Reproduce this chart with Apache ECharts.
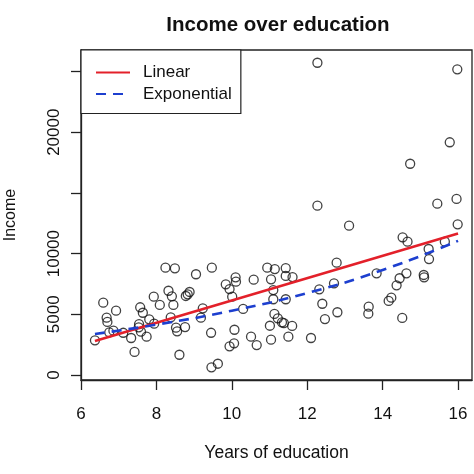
<!DOCTYPE html>
<html lang="en">
<head>
    <meta charset="UTF-8">
    <title>Income over education</title>
    <script src="https://cdn.jsdelivr.net/npm/echarts@6/dist/echarts.min.js"></script>
    <style>
        html, body { margin: 0; padding: 0; background: #fff; }
        #chart { width: 474px; height: 474px; }
    </style>
</head>
<body>
    <div id="chart"></div>
    <script>
        // years of education for each person
        var years = [
            12.27, 15.98, 15.78, 14.73, 12.27, 15.45, 15.96, 13.11, 15.99, 14.53,
            14.66, 15.65, 15.22, 15.23, 12.78, 10.94, 11.14, 11.43, 11.43, 11.61,
            11.04, 12.71, 11.10, 12.32, 13.84, 14.63, 14.45, 14.37, 15.09, 15.10,
            11.10, 11.43, 14.23, 14.16, 12.40, 13.63, 13.62, 12.80, 11.13, 11.22,
            11.33, 11.38, 12.47, 14.52, 11.01, 11.60, 11.04, 11.50, 12.10, 10.66,
            6.37, 6.59, 6.68, 6.70, 6.75, 6.86, 6.93, 7.12, 7.33, 7.42,
            7.57, 7.64, 7.54, 7.53, 7.59, 7.74, 7.81, 7.94, 7.93, 8.09,
            8.24, 8.49, 8.32, 8.41, 8.45, 8.38, 8.52, 8.55, 8.61, 8.76,
            8.78, 8.83, 8.88, 9.05, 9.23, 9.18, 9.47, 9.45, 9.46, 9.63,
            9.84, 9.94, 10.10, 10.11, 10.01, 10.30, 10.07, 10.06, 9.94, 10.58,
            10.51
        ];
        // income for each person
        var income = [
            25720, 25180, 19170, 17400, 13950, 14110, 14500, 12300, 12410, 11340,
            10980, 10980, 10380, 9550, 9250, 8840, 8730, 8810, 8160, 8070,
            7880, 7550, 7000, 7060, 8380, 8380, 7970, 7390, 8240, 8050,
            6240, 6240, 6370, 6100, 5870, 5630, 5050, 5170, 5030, 4670,
            4340, 4280, 4610, 4700, 4060, 4040, 2910, 3160, 3050, 2470,
            2860, 5960, 4720, 4370, 3520, 3650, 5300, 3480, 3050, 1900,
            5580, 5130, 4200, 3930, 3570, 3160, 4590, 4230, 6450, 5770,
            8840, 8790, 6940, 6480, 5770, 4750, 3900, 3600, 1670, 3950,
            6510, 6650, 6840, 8300, 5490, 4720, 8840, 3480, 630, 930,
            7470, 7080, 8050, 7690, 6450, 5440, 3730, 2610, 2360, 7850,
            3160
        ];
        // fitted lines
        var linearX = [6.37, 16.0];
        var linearY = [2800, 11650];
        var expX = [6.37, 8, 10, 12, 14, 16];
        var expY = [3380, 4150, 5300, 6750, 8650, 11050];

        var xTicks = [6, 8, 10, 12, 14, 16];
        var yTicks = [0, 5000, 10000, 15000, 20000, 25000];
        var yLabels = [0, 5000, 10000, 20000];

        var font = '"Liberation Sans", Arial, Helvetica, sans-serif';

        function pairs(xs, ys) {
            var out = [];
            for (var i = 0; i < xs.length; i++) out.push([xs[i], ys[i]]);
            return out;
        }

        var chart = echarts.init(document.getElementById('chart'), null, { renderer: 'canvas' });

        var option = {
            animation: false,
            title: {
                text: 'Income over education',
                left: 273,
                textAlign: 'center',
                top: 10,
                textStyle: { fontFamily: font, fontSize: 20.5, fontWeight: 'bold', color: '#111' }
            },
            legend: {
                orient: 'vertical',
                left: 81,
                top: 50,
                padding: [14, 9, 11, 14],
                itemGap: 4.5,
                itemWidth: 34,
                itemHeight: 14,
                borderColor: '#222',
                borderWidth: 1.2,
                backgroundColor: '#fff',
                itemStyle: { opacity: 0 },
                textStyle: { fontFamily: font, fontSize: 17, color: '#111', padding: [0, 0, 0, 8] },
                data: ['Linear', 'Exponential']
            },
            grid: {
                left: 81,
                right: 2,
                top: 50,
                bottom: 94,
                outerBoundsMode: 'none',
                containLabel: false,
                show: true,
                borderColor: '#222',
                borderWidth: 1.3,
                backgroundColor: 'transparent'
            },
            xAxis: {
                type: 'value',
                min: 6,
                max: 16.37,
                name: 'Years of education',
                nameLocation: 'middle',
                nameGap: 64,
                nameTextStyle: { fontFamily: font, fontSize: 17.5, color: '#111' },
                axisLine: { onZero: false, lineStyle: { color: '#222', width: 1.3 } },
                axisTick: { customValues: xTicks, length: 10, lineStyle: { color: '#222', width: 1.3 } },
                axisLabel: { customValues: xTicks, margin: 25.5, fontFamily: font, fontSize: 17, color: '#111' },
                splitLine: { show: false }
            },
            yAxis: {
                type: 'value',
                min: -410,
                max: 26770,
                name: 'Income',
                nameLocation: 'middle',
                nameGap: 62,
                nameRotate: 90,
                nameTextStyle: { fontFamily: font, fontSize: 16, color: '#111' },
                axisLine: { onZero: false, lineStyle: { color: '#222', width: 1.3 } },
                axisTick: { customValues: yTicks, length: 10, lineStyle: { color: '#222', width: 1.3 } },
                axisLabel: {
                    customValues: yLabels, rotate: 90, margin: 18.5,
                    fontFamily: font, fontSize: 17, color: '#111',
                    formatter: function (v) { return String(v); }
                },
                splitLine: { show: false }
            },
            series: [
                {
                    name: 'points',
                    type: 'scatter',
                    data: pairs(years, income),
                    symbol: 'circle',
                    symbolSize: 9,
                    itemStyle: { color: 'rgba(0,0,0,0)', borderColor: '#111', borderWidth: 1.3 },
                    z: 2
                },
                {
                    name: 'Linear',
                    type: 'line',
                    data: pairs(linearX, linearY),
                    symbol: 'none',
                    lineStyle: { color: '#e3202a', width: 2.6 },
                    itemStyle: { color: '#e3202a' },
                    z: 3
                },
                {
                    name: 'Exponential',
                    type: 'line',
                    data: pairs(expX, expY),
                    smooth: true,
                    symbol: 'none',
                    lineStyle: { color: '#1d3fcf', width: 2.6, type: [10, 7] },
                    itemStyle: { color: '#1d3fcf' },
                    z: 4
                }
            ]
        };

        chart.setOption(option);
    </script>
</body>
</html>
